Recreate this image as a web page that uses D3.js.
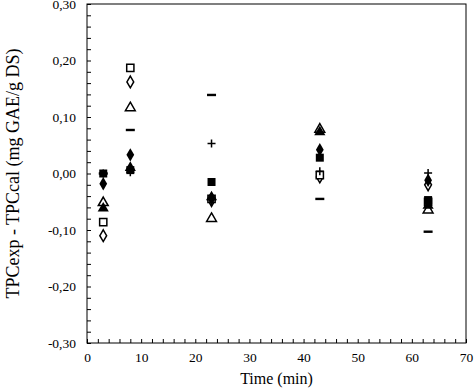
<!DOCTYPE html>
<html>
<head>
<meta charset="utf-8">
<script src="https://cdn.jsdelivr.net/npm/d3@7"></script>
<style>
  body { margin: 0; background: #fff; }
</style>
</head>
<body>
<svg width="474" height="388"></svg>
<script>
// sampling times (min)
var times = [3, 8, 23, 43, 63];

// residuals TPCexp - TPCcal for each series, one value per time
var filledSquare   = [0.000, 0.006, -0.015, 0.028, -0.047];
var filledDiamond  = [-0.018, 0.033, -0.045, 0.042, -0.012];
var openTriangle   = [-0.050, 0.118, -0.078, 0.080, -0.063];
var filledTriangle = [-0.060, 0.012, -0.040, 0.075, -0.055];
var openSquare     = [-0.086, 0.187, -0.045, -0.003, -0.050];
var openDiamond    = [-0.110, 0.162, -0.048, -0.006, -0.020];
var dashSeries     = [0.000, 0.077, 0.139, -0.045, -0.103];
var plusSeries     = [0.000, 0.002, 0.053, 0.004, 0.001];

var xTicks = [0, 10, 20, 30, 40, 50, 60, 70];
var yTicks = [-0.3, -0.2, -0.1, 0, 0.1, 0.2, 0.3];

var serif = "'Times New Roman', 'Liberation Serif', serif";

var svg = d3.select("svg"),
    margin = {top: 4, right: 8, bottom: 45, left: 87},
    width = +svg.attr("width") - margin.left - margin.right,
    height = +svg.attr("height") - margin.top - margin.bottom;

var x = d3.scaleLinear().domain([0, 70]).range([0, width]),
    y = d3.scaleLinear().domain([-0.3, 0.3]).range([height, 0]);

var g = svg.append("g")
    .attr("transform", "translate(" + margin.left + "," + margin.top + ")");

// comma decimals and plain hyphen like the original
var fmt = function(d) { return d3.format(".2f")(d).replace(".", ",").replace("\u2212", "-"); };

// plot frame
g.append("rect")
    .attr("width", width)
    .attr("height", height)
    .attr("fill", "none")
    .attr("stroke", "#000")
    .attr("stroke-width", 1);

// minor ticks pointing inward
g.append("g")
    .attr("transform", "translate(0," + height + ")")
    .call(d3.axisBottom(x).tickValues(d3.range(0, 71, 2)).tickSize(-4).tickFormat(""))
    .call(function(a) { a.select(".domain").remove(); });
g.append("g")
    .call(d3.axisLeft(y).tickValues(d3.range(-15, 16).map(function(i) { return i * 0.02; })).tickSize(-4).tickFormat(""))
    .call(function(a) { a.select(".domain").remove(); });

// labels
var xa = g.append("g")
    .attr("transform", "translate(0," + height + ")")
    .call(d3.axisBottom(x).tickValues(xTicks).tickSize(0).tickPadding(9));
xa.select(".domain").remove();

var ya = g.append("g")
    .call(d3.axisLeft(y).tickValues(yTicks).tickSize(0).tickPadding(11).tickFormat(fmt));
ya.select(".domain").remove();

svg.selectAll(".tick text")
    .style("font-family", serif)
    .style("font-size", "13.5px")
    .attr("fill", "#000");
svg.selectAll(".tick line").attr("stroke", "#000");

svg.append("text")
    .attr("x", margin.left + width / 2)
    .attr("y", 384)
    .attr("text-anchor", "middle")
    .style("font-family", serif)
    .style("font-size", "16px")
    .text("Time (min)");

svg.append("text")
    .attr("transform", "translate(19," + (margin.top + y(0)) + ") rotate(-90)")
    .attr("text-anchor", "middle")
    .style("font-family", serif)
    .style("font-size", "18px")
    .text("TPCexp - TPCcal (mg GAE/g DS)");

// marker drawing
function drawSeries(vals, shape, filled) {
  var s = g.append("g");
  vals.forEach(function(v, i) {
    var cx = x(times[i]), cy = y(v);
    if (shape === "dash") {
      s.append("rect").attr("x", cx - 4.5).attr("y", cy - 1.2).attr("width", 9).attr("height", 2.4).attr("fill", "#000");
    } else if (shape === "plus") {
      s.append("path")
        .attr("d", "M" + (cx - 4) + "," + cy + "H" + (cx + 4) + "M" + cx + "," + (cy - 4) + "V" + (cy + 4))
        .attr("stroke", "#000").attr("stroke-width", 1.5);
    } else {
      var sym = shape === "square" ? d3.symbolSquare : shape === "diamond" ? d3.symbolDiamond : d3.symbolTriangle;
      var size = shape === "square" ? 52 : shape === "diamond" ? 40 : 42;
      s.append("path")
        .attr("d", d3.symbol(sym, filled ? size + 12 : size)())
        .attr("transform", "translate(" + cx + "," + (shape === "triangle" ? cy + 1 : cy) + ")")
        .attr("fill", filled ? "#000" : "#fff")
        .attr("stroke", filled ? "none" : "#000")
        .attr("stroke-width", 1.5);
    }
  });
}

drawSeries(openDiamond, "diamond", false);
drawSeries(openSquare, "square", false);
drawSeries(openTriangle, "triangle", false);
drawSeries(dashSeries, "dash", true);
drawSeries(filledTriangle, "triangle", true);
drawSeries(filledDiamond, "diamond", true);
drawSeries(filledSquare, "square", true);
drawSeries(plusSeries, "plus", true);
</script>
</body>
</html>
